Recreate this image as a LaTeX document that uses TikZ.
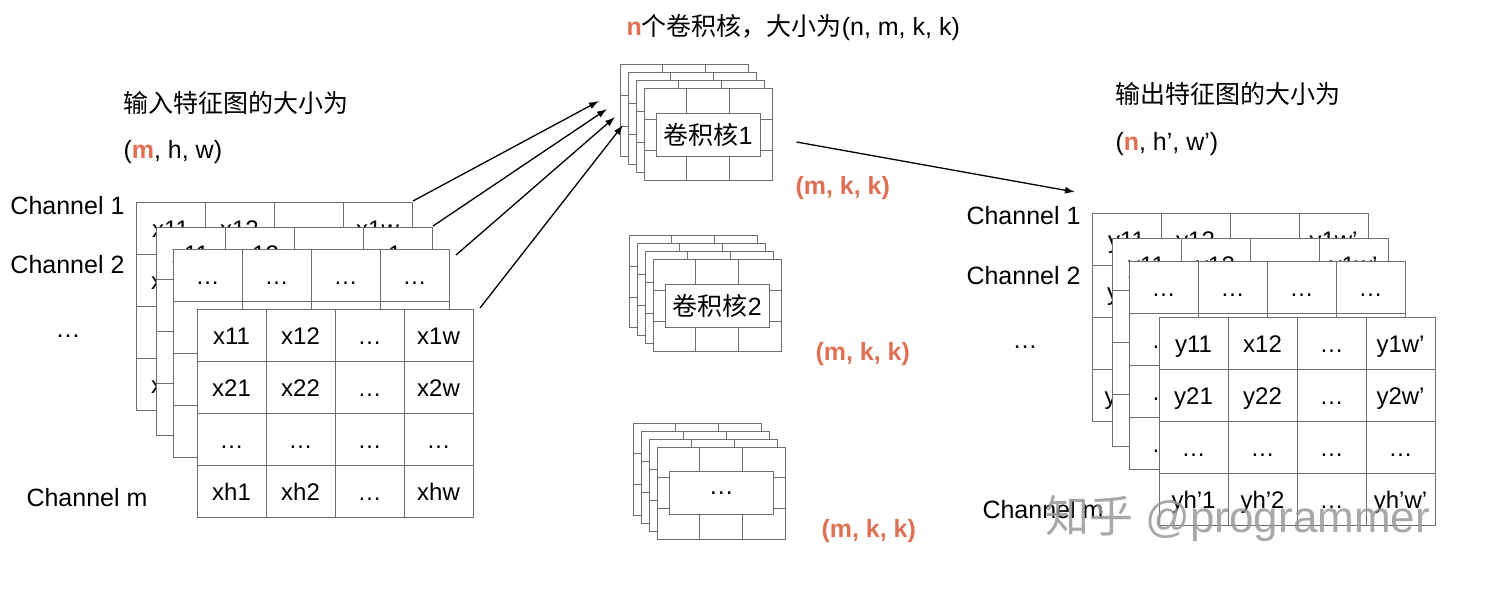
\documentclass[tikz,border=0pt]{standalone}
\usepackage{fontspec}
\setmainfont{Liberation Sans}
\newfontfamily\cjk{Noto Sans CJK SC}
\usetikzlibrary{matrix,arrows.meta}
\definecolor{hl}{RGB}{224,112,84}
\definecolor{gline}{RGB}{110,110,110}
\tikzset{
  fmap/.style={matrix of nodes, nodes in empty cells, anchor=north west, inner sep=0pt,
    column sep=-0.5pt, row sep=-0.5pt,
    nodes={draw=gline, fill=white, minimum width=34.5pt, minimum height=26pt, inner sep=0pt,
      text height=11pt, text depth=2pt, font=\fontsize{12}{14}\selectfont}},
  kbox/.style={draw=gline, fill=white, minimum width=52pt, minimum height=21.5pt, inner sep=0pt},
  lbl/.style={anchor=base west, inner sep=0pt},
  ksize/.style={lbl, text=hl, font=\fontsize{12.5}{15}\selectfont\bfseries},
  arr/.style={-{Latex[length=5pt,width=3.5pt]}, line width=0.65pt},
}
\begin{document}
\begin{tikzpicture}[x=0.5pt,y=-0.5pt,line width=0.5pt,font=\fontsize{12.5}{15}\selectfont]
\useasboundingbox (0,0) rectangle (1486,588);

\node[lbl] (ktitle) at (626,36) {{\color{hl}\bfseries n}{\cjk 个卷积核，大小为}(n, m, k, k)};
\node[lbl] (intitle) at (123,113) {\cjk 输入特征图的大小为};
\node[lbl] (insize) at (123,159) {({\color{hl}\bfseries m}, h, w)};
\node[lbl] (outtitle) at (1115,104) {\cjk 输出特征图的大小为};
\node[lbl] (outsize) at (1115,151) {({\color{hl}\bfseries n}, h’, w’)};

\node[lbl] (c1) at (10,214) {Channel 1};
\node[lbl] (c2) at (10,273) {Channel 2};
\node[anchor=base,inner sep=0pt] (cdots) at (68,337) {…};
\node[lbl] (cm) at (26,506) {Channel m};

\matrix (inA) [fmap] at (135,201) {
x11 & x12 & & x1w \\
x21 & & & \\
& & & \\
xh1 & & & \\
};
\matrix (inB) [fmap] at (155,226) {
x11 & x12 & & x1w \\
& & & \\
& & & \\
& & & \\
};
\matrix (inC) [fmap] at (172,248) {
… & … & … & … \\
& & & \\
& & & \\
& & & \\
};
\matrix (inD) [fmap] at (196,308) {
x11 & x12 & … & x1w \\
x21 & x22 & … & x2w \\
… & … & … & … \\
xh1 & xh2 & … & xhw \\
};

\foreach \kx/\ky/\kn/\kt in {620/65/kA/{{\cjk 卷积核}1}, 629.3/235.7/kB/{{\cjk 卷积核}2}, 633.3/423.3/kC/…}{
  \foreach \i in {0,...,3}
    \draw[draw=gline,fill=white,shift={(\kx+8*\i,\ky+8*\i)}] (0,0) rectangle (128,92)
      (42.67,0)--(42.67,92) (85.33,0)--(85.33,92) (0,30.67)--(128,30.67) (0,61.33)--(128,61.33);
  \node[kbox] (\kn) at (\kx+88,\ky+70) {\kt};
}
\node[ksize] (szA) at (795,195) {(m, k, k)};
\node[ksize] (szB) at (815,360) {(m, k, k)};
\node[ksize] (szC) at (821,537) {(m, k, k)};

\node[lbl] (d1) at (966,225) {Channel 1};
\node[lbl] (d2) at (966,284) {Channel 2};
\node[anchor=base,inner sep=0pt] (ddots) at (1025,348) {…};
\node[lbl] (dm) at (982,518) {Channel m};

\matrix (outA) [fmap] at (1091,212) {
y11 & y12 & & y1w’ \\
y21 & & & \\
& & & \\
yh’1 & & & \\
};
\matrix (outB) [fmap] at (1111,237) {
y11 & y12 & & y1w’ \\
& & & \\
& & & \\
& & & \\
};
\matrix (outC) [fmap] at (1128,260) {
… & … & … & … \\
… & & & \\
… & & & \\
… & & & \\
};
\matrix (outD) [fmap] at (1158,316) {
y11 & x12 & … & y1w’ \\
y21 & y22 & … & y2w’ \\
… & … & … & … \\
yh’1 & yh’2 & … & yh’w’ \\
};

\coordinate (t1) at (599,101);
\coordinate (t2) at (607,109);
\coordinate (t3) at (615,117);
\coordinate (t4) at (623,125);
\draw[arr] (inA.north east) -- (t1);
\draw[arr] (inB.north east) -- (t2);
\draw[arr] ([shift={(3pt,-3.5pt)}]inC.north east) -- (t3);
\draw[arr] ([xshift=3pt]inD.north east) -- (t4);
\coordinate (outtip) at ([shift={(-8pt,10pt)}]outA.north west);
\draw[arr] ([shift={(18pt,-3.5pt)}]kA.east) -- (outtip);

\node[lbl,text=black!40,opacity=0.85,font=\fontsize{22}{26}\selectfont] (wm) at (1045,532) {{\cjk 知乎} @programmer};
\end{tikzpicture}
\end{document}
